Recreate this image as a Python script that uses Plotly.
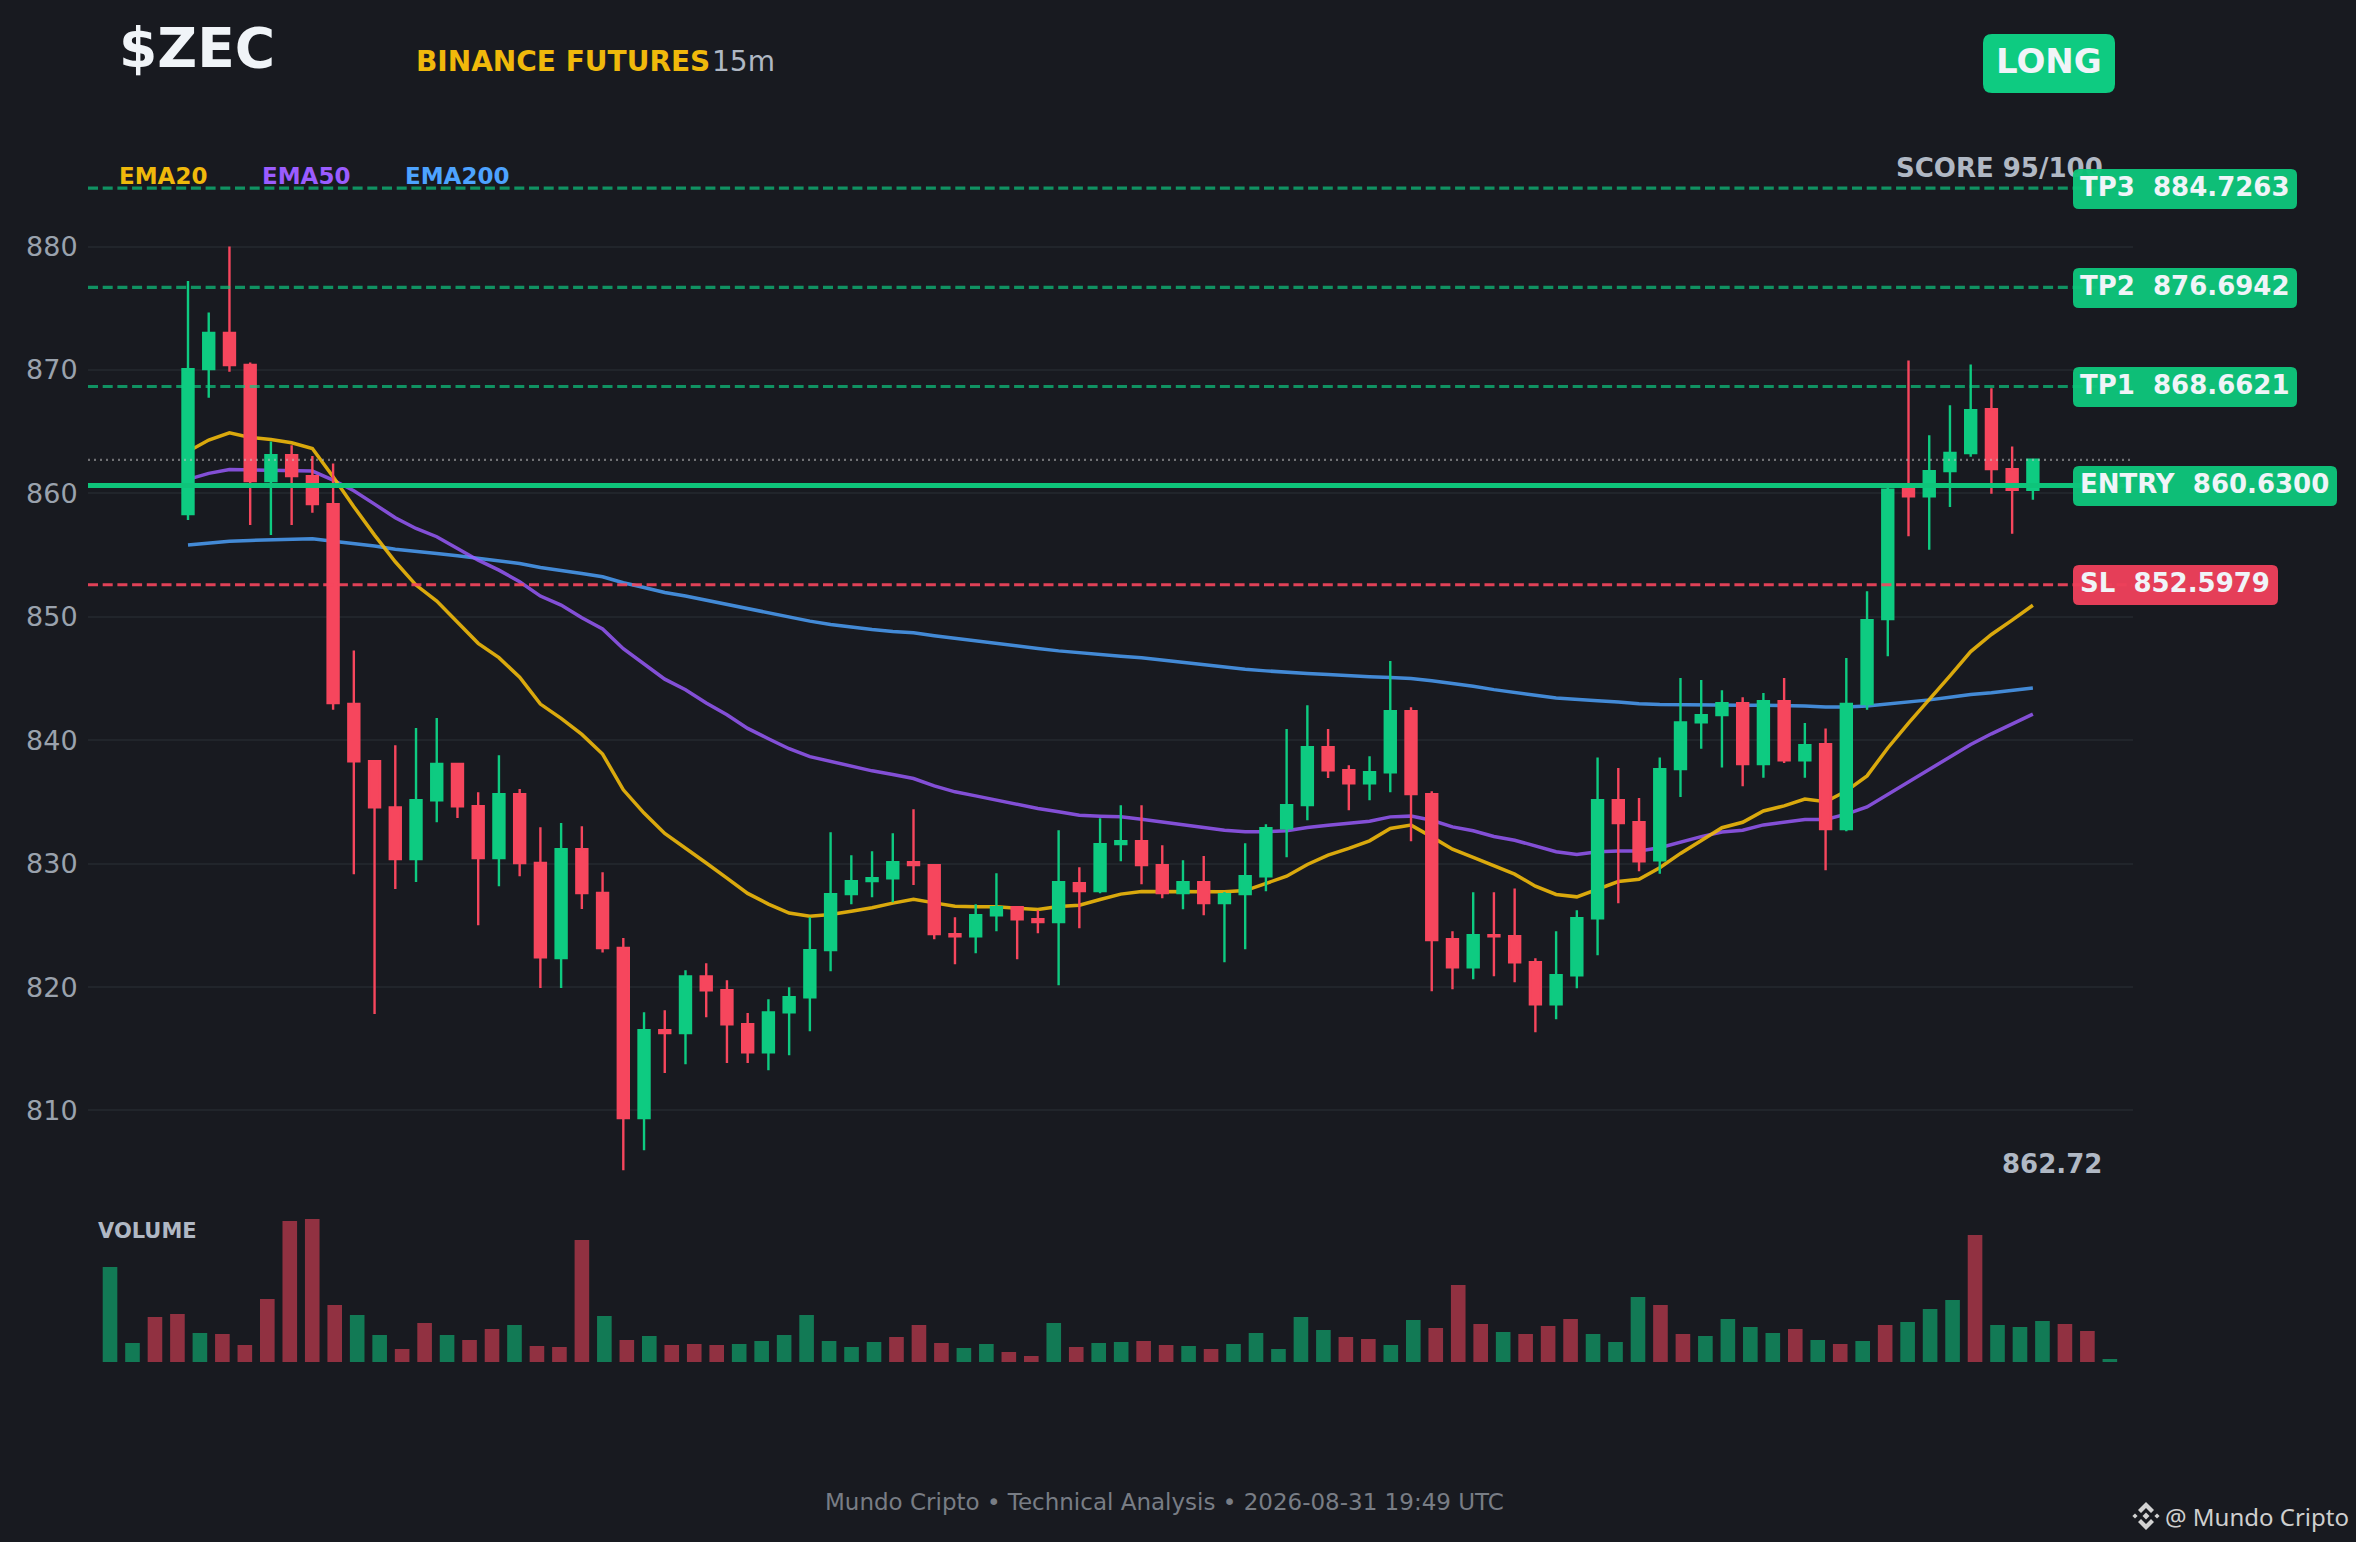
# ZEC 15m long setup: candles, EMAs, trade levels, volume pane
import plotly.graph_objects as go

W = 2356
H = 1542

opens = [858.32, 870.07, 872.99, 870.40, 861.00, 863.10, 861.40, 859.13, 842.93, 838.30,
         834.56, 830.37, 835.14, 838.07, 834.65, 830.45, 835.63, 830.05, 822.35, 831.18,
         827.62, 823.16, 809.38, 816.50, 816.27, 820.87, 819.74, 816.99, 814.71, 817.95,
         819.17, 822.99, 827.53, 828.58, 828.82, 830.12, 829.88, 824.29, 824.12, 825.82,
         826.47, 825.50, 825.26, 828.42, 827.77, 831.58, 831.82, 829.88, 827.61, 828.50,
         826.80, 827.53, 828.98, 832.87, 834.74, 839.44, 837.57, 836.52, 837.41, 842.36,
         835.63, 823.88, 821.61, 824.20, 824.12, 822.01, 818.61, 820.96, 825.58, 835.14,
         833.35, 830.28, 837.66, 841.45, 842.03, 843.01, 838.06, 843.16, 838.38, 839.68,
         832.80, 842.93, 849.81, 860.35, 859.77, 861.80, 863.27, 866.83, 861.97, 860.29]
highs = [877.20, 874.66, 880.01, 870.61, 864.20, 863.91, 863.02, 862.43, 847.27, 838.38,
         839.60, 840.99, 841.80, 838.15, 835.78, 838.79, 836.04, 832.94, 833.29, 833.03,
         829.30, 823.97, 817.95, 818.12, 821.37, 821.94, 820.56, 817.89, 819.02, 819.98,
         825.65, 832.54, 830.69, 831.01, 832.47, 834.41, 829.96, 825.66, 826.72, 829.23,
         826.50, 826.23, 832.71, 829.71, 833.68, 834.74, 834.74, 831.50, 830.28, 830.61,
         827.70, 831.66, 833.20, 840.90, 842.84, 840.90, 837.98, 838.71, 846.41, 842.68,
         835.87, 824.53, 827.69, 827.69, 827.98, 822.34, 824.53, 826.23, 838.61, 837.75,
         835.31, 838.61, 845.04, 844.87, 844.05, 843.48, 843.82, 845.04, 841.39, 840.96,
         846.66, 852.07, 860.58, 870.77, 864.72, 867.15, 870.45, 868.51, 863.79, 862.75]
lows = [857.84, 867.75, 869.86, 857.43, 856.62, 857.43, 858.43, 842.47, 829.15, 817.81,
        827.94, 828.51, 833.35, 833.70, 825.00, 828.17, 828.98, 819.92, 819.92, 826.32,
        822.81, 805.16, 806.78, 813.03, 813.75, 817.55, 813.84, 813.84, 813.26, 814.48,
        816.42, 821.28, 826.72, 827.28, 826.88, 828.26, 823.88, 821.85, 822.75, 824.53,
        822.26, 824.37, 820.15, 824.77, 827.61, 830.20, 828.34, 827.20, 826.31, 825.82,
        822.02, 823.07, 827.77, 830.52, 833.52, 836.93, 834.33, 835.14, 835.79, 831.82,
        819.66, 819.83, 820.64, 820.88, 820.39, 816.34, 817.39, 819.91, 822.58, 826.80,
        829.38, 829.18, 835.40, 839.31, 837.80, 836.27, 836.96, 838.15, 836.96, 829.47,
        832.62, 842.46, 846.80, 856.53, 855.43, 858.90, 862.96, 859.97, 856.73, 859.48]
closes = [870.07, 872.99, 870.40, 861.00, 863.10, 861.40, 859.13, 843.02, 838.30, 834.56,
          830.37, 835.14, 838.07, 834.65, 830.45, 835.63, 830.05, 822.41, 831.18, 827.62,
          823.16, 809.38, 816.50, 816.27, 820.87, 819.74, 816.99, 814.71, 817.95, 819.17,
          822.99, 827.53, 828.58, 828.82, 830.12, 829.88, 824.29, 824.12, 825.82, 826.47,
          825.50, 825.26, 828.50, 827.77, 831.58, 831.82, 829.88, 827.61, 828.50, 826.80,
          827.53, 828.98, 832.87, 834.74, 839.44, 837.57, 836.52, 837.41, 842.36, 835.63,
          823.80, 821.61, 824.20, 824.12, 822.01, 818.61, 820.96, 825.58, 835.14, 833.29,
          830.19, 837.66, 841.45, 842.03, 843.01, 838.06, 843.16, 838.38, 839.60, 832.80,
          842.93, 849.73, 860.29, 859.77, 861.80, 863.27, 866.75, 861.97, 860.29, 862.72]

ema20 = [863.40, 864.32, 864.91, 864.53, 864.37, 864.10, 863.64, 861.35, 858.92, 856.62,
         854.46, 852.57, 851.27, 849.60, 847.85, 846.69, 845.10, 842.93, 841.77, 840.47,
         838.88, 835.98, 834.10, 832.45, 831.21, 830.05, 828.83, 827.59, 826.72, 826.00,
         825.74, 825.88, 826.15, 826.42, 826.80, 827.12, 826.82, 826.55, 826.50, 826.50,
         826.39, 826.28, 826.53, 826.63, 827.09, 827.53, 827.74, 827.74, 827.77, 827.72,
         827.72, 827.82, 828.39, 828.98, 829.93, 830.69, 831.23, 831.85, 832.85, 833.12,
         832.17, 831.17, 830.50, 829.85, 829.15, 828.17, 827.50, 827.31, 827.90, 828.55,
         828.73, 829.67, 830.83, 831.90, 832.91, 833.35, 834.27, 834.68, 835.23, 835.02,
         835.89, 837.11, 839.37, 841.39, 843.27, 845.21, 847.18, 848.57, 849.73, 850.94]
ema50 = [861.13, 861.62, 861.94, 861.91, 861.91, 861.91, 861.81, 861.08, 860.21, 859.13,
         858.03, 857.16, 856.49, 855.54, 854.59, 853.78, 852.84, 851.68, 850.95, 849.92,
         849.01, 847.41, 846.20, 844.95, 844.09, 843.02, 842.06, 840.96, 840.12, 839.31,
         838.67, 838.27, 837.90, 837.52, 837.22, 836.90, 836.30, 835.82, 835.49, 835.14,
         834.79, 834.47, 834.20, 833.93, 833.85, 833.79, 833.60, 833.39, 833.20, 832.93,
         832.71, 832.58, 832.58, 832.66, 832.93, 833.12, 833.28, 833.44, 833.79, 833.85,
         833.52, 832.98, 832.66, 832.20, 831.90, 831.41, 830.97, 830.74, 830.97, 831.03,
         831.03, 831.29, 831.75, 832.19, 832.56, 832.71, 833.14, 833.35, 833.58, 833.58,
         834.01, 834.59, 835.60, 836.62, 837.63, 838.58, 839.66, 840.52, 841.31, 842.11]
ema200 = [855.81, 856.00, 856.13, 856.19, 856.24, 856.30, 856.32, 856.13, 855.94, 855.73,
          855.48, 855.27, 855.13, 854.94, 854.73, 854.54, 854.32, 854.00, 853.78, 853.51,
          853.24, 852.76, 852.38, 851.97, 851.68, 851.35, 850.95, 850.62, 850.30, 850.00,
          849.65, 849.38, 849.14, 848.97, 848.81, 848.70, 848.46, 848.24, 848.03, 847.84,
          847.62, 847.43, 847.24, 847.08, 846.95, 846.81, 846.68, 846.49, 846.33, 846.14,
          845.95, 845.76, 845.62, 845.49, 845.41, 845.33, 845.22, 845.14, 845.08, 845.00,
          844.81, 844.60, 844.38, 844.10, 843.91, 843.65, 843.42, 843.27, 843.19, 843.10,
          842.96, 842.90, 842.87, 842.87, 842.87, 842.84, 842.84, 842.84, 842.78, 842.69,
          842.69, 842.78, 842.93, 843.07, 843.27, 843.48, 843.71, 843.85, 844.03, 844.23]

# relative volume
volume = [95, 19, 45, 48, 29, 28, 17, 63, 141, 143, 57, 47, 27, 13, 39, 27, 22, 33, 37, 16,
          15, 122, 46, 22, 26, 17, 18, 17, 18, 21, 27, 47, 21, 15, 20, 25, 37, 19, 14, 18,
          10, 6, 39, 15, 19, 20, 21, 17, 16, 13, 18, 29, 13, 45, 32, 25, 23, 17, 42, 34,
          77, 38, 30, 28, 36, 43, 28, 20, 65, 57, 28, 26, 43, 35, 29, 33, 22, 18, 21, 37,
          40, 53, 62, 127, 37, 35, 41, 38, 31, 3]

level_names = ["TP3", "TP2", "TP1", "ENTRY", "SL"]
level_values = [884.7263, 876.6942, 868.6621, 860.6300, 852.5979]
last_price = 862.72
y_ticks = [810, 820, 830, 840, 850, 860, 870, 880]

BG = "#181a20"
GREEN = "#0ecb81"
RED = "#f6465d"
GREY = "#b0b8c4"
FONT = "DejaVu Sans"

idx = list(range(len(closes)))


def px(x):
    return x / W


def py(y):
    return 1 - y / H


def rounded(x0, y0, x1, y1, r):
    # rounded rectangle as a paper path, pixel input
    return (f"M {px(x0 + r)} {py(y0)} L {px(x1 - r)} {py(y0)} Q {px(x1)} {py(y0)} {px(x1)} {py(y0 + r)} "
            f"L {px(x1)} {py(y1 - r)} Q {px(x1)} {py(y1)} {px(x1 - r)} {py(y1)} "
            f"L {px(x0 + r)} {py(y1)} Q {px(x0)} {py(y1)} {px(x0)} {py(y1 - r)} "
            f"L {px(x0)} {py(y0 + r)} Q {px(x0)} {py(y0)} {px(x0 + r)} {py(y0)} Z")


def poly(cx, cy, pts):
    return "M " + " L ".join(f"{px(cx + a)} {py(cy + b)}" for a, b in pts) + " Z"


def label(text, x, y, size, color, anchor="left", font=FONT):
    fig.add_annotation(text=text, x=px(x), y=py(y), xref="paper", yref="paper", showarrow=False,
                       xanchor=anchor, yanchor="middle", borderpad=0, borderwidth=0,
                       font=dict(family=font, size=size, color=color))


fig = go.Figure()

for values, color in [(ema200, "rgba(77,163,255,0.82)"), (ema50, "rgba(155,92,255,0.82)"), (ema20, "rgba(240,185,11,0.9)")]:
    fig.add_trace(go.Scatter(x=idx, y=values, mode="lines", line=dict(color=color, width=3.5),
                             showlegend=False, hoverinfo="skip", zorder=-1))

fig.add_trace(go.Candlestick(x=idx, open=opens, high=highs, low=lows, close=closes, showlegend=False,
                             whiskerwidth=0,
                             increasing=dict(line=dict(color=GREEN, width=2.4), fillcolor=GREEN),
                             decreasing=dict(line=dict(color=RED, width=2.4), fillcolor=RED)))

# score sits under the TP3 badge, so it has to be a trace and not an annotation
fig.add_trace(go.Scatter(x=[92.37], y=[886.16], mode="text", text=["<b>SCORE 95/100</b>"],
                         textposition="middle left", textfont=dict(family=FONT, size=26, color=GREY),
                         showlegend=False, hoverinfo="skip", cliponaxis=False))

vol_colors = ["rgba(14,203,129,0.55)" if c >= o else "rgba(246,70,93,0.55)" for o, c in zip(opens, closes)]
fig.add_trace(go.Bar(x=idx, y=volume, width=0.65, marker=dict(color=vol_colors, line=dict(width=0)),
                     showlegend=False, xaxis="x2", yaxis="y2"))

# trade levels
for name, value in zip(level_names, level_values):
    if name == "ENTRY":
        style = dict(color="rgb(14,196,122)", width=5)
    elif name == "SL":
        style = dict(color="rgba(246,70,93,0.9)", width=3.2, dash="10px,4.7px")
    else:
        style = dict(color="rgba(14,203,129,0.68)", width=3.2, dash="10px,4.7px")
    fig.add_shape(type="line", xref="paper", yref="y", x0=px(88), x1=px(2132), y0=value, y1=value, line=style)
fig.add_shape(type="line", xref="paper", yref="y", x0=px(88), x1=px(2132), y0=last_price, y1=last_price,
              line=dict(color="rgba(200,200,200,0.5)", width=2.2, dash="2px,4px"))

badge_right = {"TP3": 2297, "TP2": 2297, "TP1": 2297, "ENTRY": 2337, "SL": 2278}
badge_mid = {"TP3": 189, "TP2": 288, "TP1": 387, "ENTRY": 486, "SL": 585}
for name, value in zip(level_names, level_values):
    mid = badge_mid[name]
    color = "rgba(236,64,90,0.97)" if name == "SL" else "rgba(14,196,122,0.97)"
    fig.add_shape(type="path", xref="paper", yref="paper", fillcolor=color, line=dict(width=0),
                  path=rounded(2073, mid - 20, badge_right[name], mid + 20, 6))
    label(f"<b>{name}\u00a0\u00a0{value:.4f}</b>", 2080, mid - 2, 26, "#f0f4f8")

# LONG badge
fig.add_shape(type="path", xref="paper", yref="paper", fillcolor=GREEN, line=dict(width=0),
              path=rounded(1983, 34, 2115, 93, 9))
label("<b>LONG</b>", 2049, 61, 34, "#f0f4f8", anchor="center")

# binance mark next to the watermark
logo = [[(0, -14), (8, -6), (5, -3), (0, -8), (-5, -3), (-8, -6)],
        [(0, 14), (8, 6), (5, 3), (0, 8), (-5, 3), (-8, 6)],
        [(0, -3.5), (3.5, 0), (0, 3.5), (-3.5, 0)],
        [(-11, -2.6), (-8.4, 0), (-11, 2.6), (-13.6, 0)],
        [(11, -2.6), (13.6, 0), (11, 2.6), (8.4, 0)]]
for pts in logo:
    fig.add_shape(type="path", xref="paper", yref="paper", fillcolor="#d2d2d2", line=dict(width=0),
                  path=poly(2146, 1516, pts))

label("<b>$ZEC</b>", 119, 48, 55, "#f0f4f8")
label("<b>BINANCE FUTURES</b>", 416, 62, 28, "#f0b90b")
label("15m", 712, 62, 28, GREY)
label("<b>EMA20</b>", 119, 176, 23, "#f0b90b")
label("<b>EMA50</b>", 262, 176, 23, "#9b5cff")
label("<b>EMA200</b>", 405, 176, 23, "#4da3ff")
label(f"<b>{last_price:.2f}</b>", 2102, 1164, 26, GREY, anchor="right")
label("<b>VOLUME</b>", 98, 1231, 21, GREY)
label("Mundo Cripto • Technical Analysis • 2026-08-31 19:49 UTC", 1164, 1502, 23, "#787d85", anchor="center")
label("@\u00a0Mundo Cripto", 2165, 1516, 24, "#cfcfcf", font="Noto Sans")

fig.update_layout(
    width=W, height=H, autosize=False, margin=dict(l=0, r=0, t=0, b=0),
    paper_bgcolor=BG, plot_bgcolor=BG, showlegend=False, boxgap=0.47, boxgroupgap=0, hovermode=False,
    xaxis=dict(domain=[px(88), px(2133)], range=[-4.824, 93.83], type="linear", side="top",
               showgrid=False, zeroline=False, showticklabels=False, ticks="", showline=True,
               linecolor="#2b3139", linewidth=2, rangeslider=dict(visible=False), anchor="y"),
    yaxis=dict(domain=[py(1217), py(143)], range=[801.37, 888.39], tickvals=y_ticks, showgrid=True,
               gridcolor="#21252b", gridwidth=2, zeroline=False, showline=True, mirror=True,
               linecolor="#2b3139", linewidth=2, ticks="outside", ticklen=3, tickcolor="rgba(0,0,0,0)",
               tickfont=dict(family=FONT, size=27, color="#9aa2ad"), anchor="x"),
    xaxis2=dict(domain=[px(88), px(2133)], range=[-0.98, 90.03], type="linear", showgrid=False,
                zeroline=False, showticklabels=False, ticks="", showline=False, anchor="y2"),
    yaxis2=dict(domain=[py(1362), py(1219)], range=[0, 143], showgrid=False, zeroline=False,
                showticklabels=False, ticks="", showline=False, anchor="x2"),
)

fig.write_html("out.html", config=dict(displayModeBar=False),
               post_script=f"document.body.style.margin='0';document.body.style.background='{BG}';")
